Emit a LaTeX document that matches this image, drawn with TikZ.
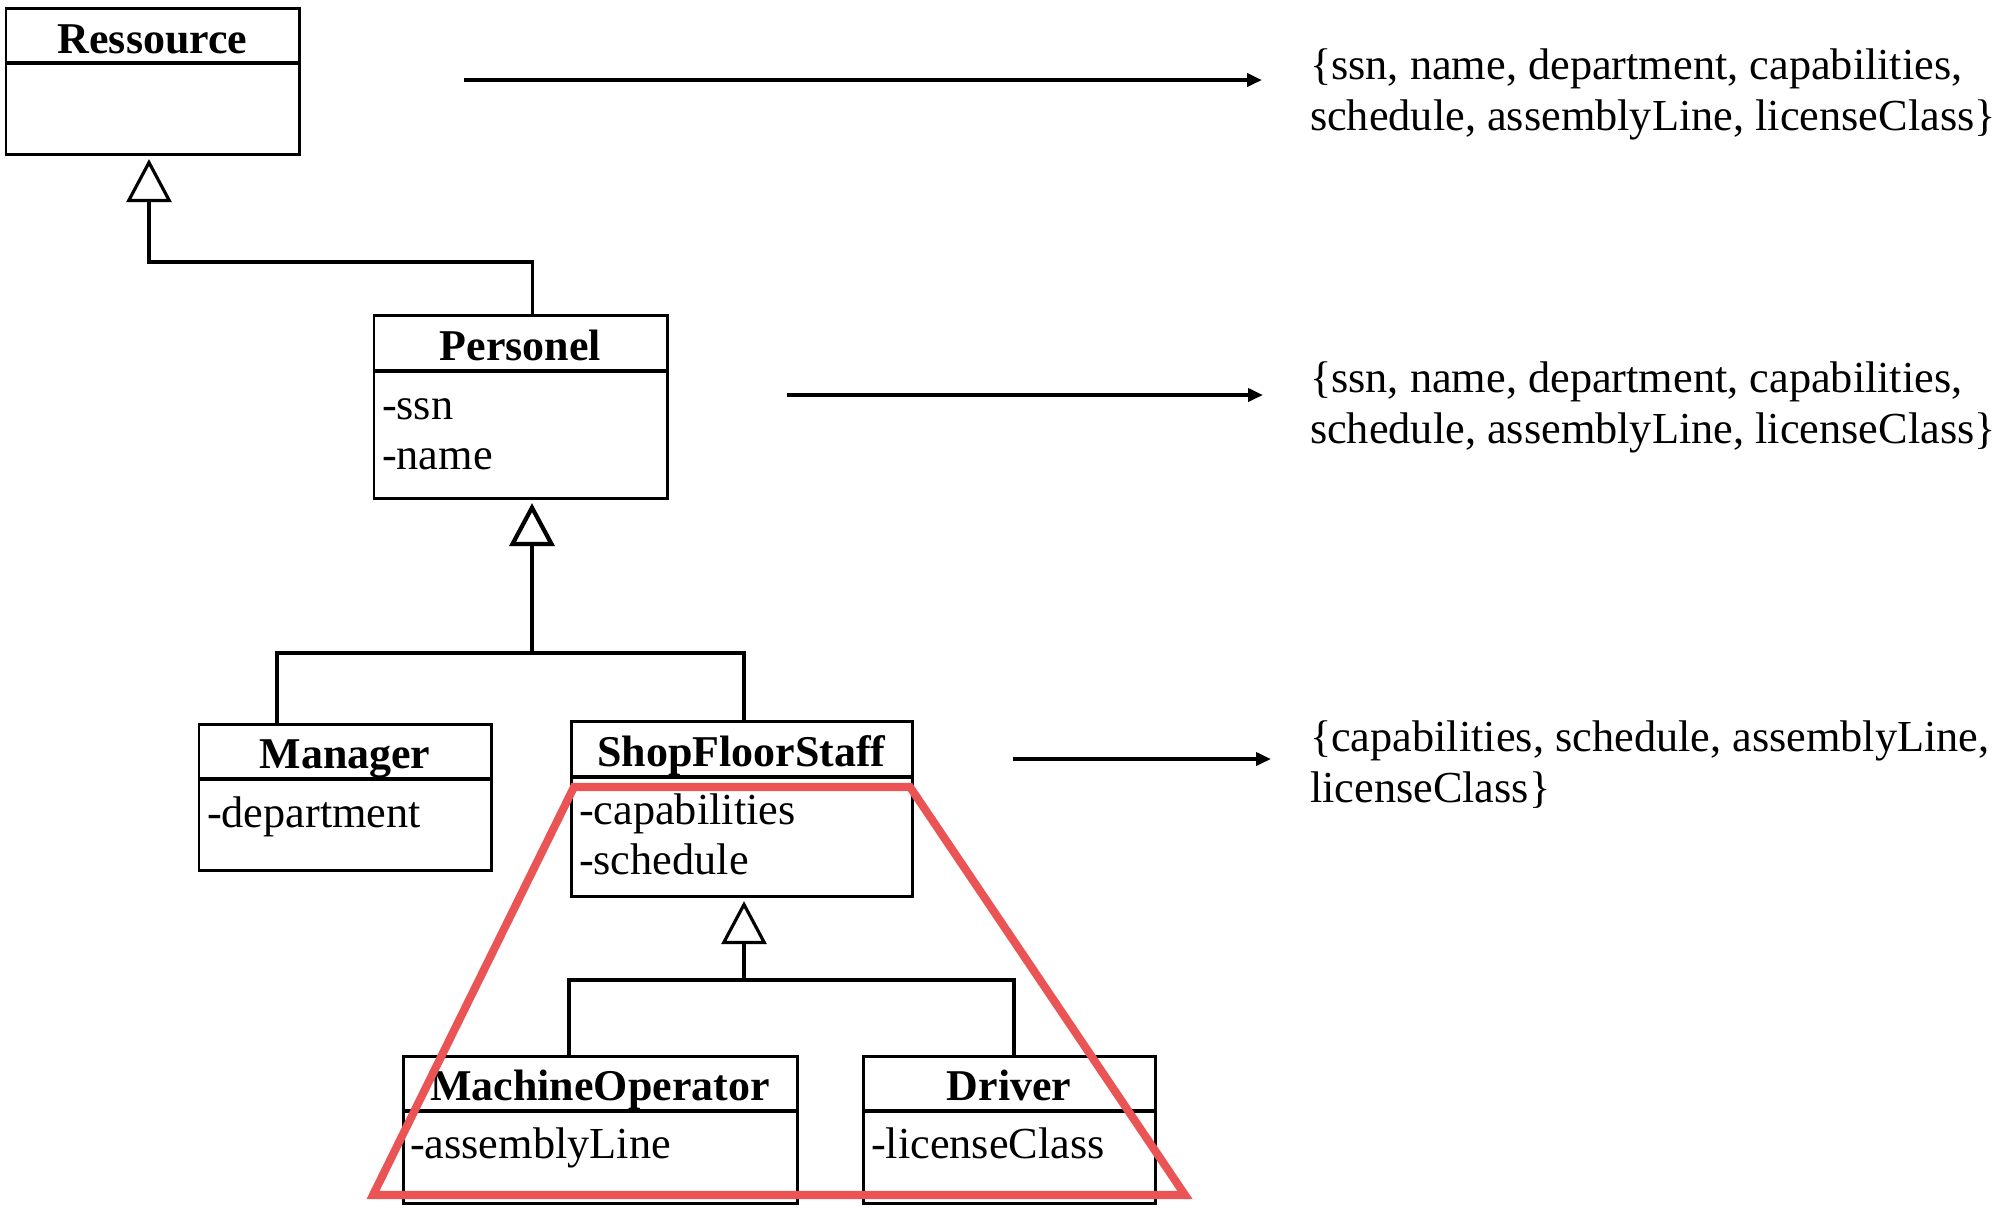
\documentclass[tikz,border=0pt]{standalone}
\usepackage{fontspec}
\setmainfont{Liberation Serif}
\usetikzlibrary{arrows.meta}
\definecolor{hl}{RGB}{234,84,85}
\begin{document}
\begin{tikzpicture}[x=0.01cm,y=-0.01cm,
  every node/.style={inner sep=0pt, outer sep=0pt},
  cls/.style={draw=black, line width=0.85pt, anchor=north west},
  title/.style={anchor=base, font=\fontsize{12.5}{14}\selectfont\bfseries},
  attr/.style={anchor=base west, font=\fontsize{12.6}{14}\selectfont},
  note/.style={anchor=base west, font=\fontsize{12.6}{14}\selectfont},
  conn/.style={line width=0.9pt, line join=miter},
  gen/.style={conn, -{Triangle[open, length=0.43cm, width=0.45cm, fill=white]}, shorten >=0.05cm},
  flow/.style={line width=1.3pt, -{Triangle[length=0.15cm, width=0.13cm]}},
  hlshape/.style={draw=hl, line width=2.3pt, line join=miter}
]
\useasboundingbox (0,0) rectangle (2000,1217);

% class boxes
\node[cls, minimum width=2.93cm, minimum height=1.46cm] (ressource) at (6,8) {};
\node[cls, minimum width=2.93cm, minimum height=1.83cm] (personel) at (374,315) {};
\node[cls, minimum width=2.92cm, minimum height=1.46cm] (manager) at (199,724) {};
\node[cls, minimum width=3.41cm, minimum height=1.75cm] (sfs) at (571,721) {};
\node[cls, minimum width=3.94cm, minimum height=1.47cm] (mo) at (403,1056) {};
\node[cls, minimum width=2.92cm, minimum height=1.47cm] (driver) at (863,1056) {};

% dividers
\draw[conn] (ressource.west |- 0,63) -- (ressource.east |- 0,63);
\draw[conn] (personel.west |- 0,371) -- (personel.east |- 0,371);
\draw[conn] (manager.west |- 0,779) -- (manager.east |- 0,779);
\draw[conn] (sfs.west |- 0,777) -- (sfs.east |- 0,777);
\draw[conn] (mo.west |- 0,1111) -- (mo.east |- 0,1111);
\draw[conn] (driver.west |- 0,1111) -- (driver.east |- 0,1111);

% titles
\node[title] (ressourceT) at (152.5,53) {Ressource};
\node[title] (personelT) at (520.5,360) {Personel};
\node[title] (managerT) at (345,768) {Manager};
\node[title] (sfsT) at (741.5,766) {ShopFloorStaff};
\node[title] (moT) at (600,1100) {MachineOperator};
\node[title] (driverT) at (1009,1100) {Driver};

% attributes
\node[attr] (pa1) at (382,419) {-ssn};
\node[attr] (pa2) at (382,469) {-name};
\node[attr] (ma1) at (207,827) {-department};
\node[attr] (sa1) at (579,824) {-capabilities};
\node[attr] (sa2) at (579,874) {-schedule};
\node[attr] (oa1) at (410,1158) {-assemblyLine};
\node[attr] (da1) at (871,1158) {-licenseClass};

% right-hand notes
\node[note] (t1a) at (1310,79) {\{ssn, name, department, capabilities,};
\node[note] (t1b) at (1310,130) {schedule, assemblyLine, licenseClass\}};
\node[note] (t2a) at (1310,392) {\{ssn, name, department, capabilities,};
\node[note] (t2b) at (1310,443) {schedule, assemblyLine, licenseClass\}};
\node[note] (t3a) at (1310,751) {\{capabilities, schedule, assemblyLine,};
\node[note] (t3b) at (1310,802) {licenseClass\}};

% flow arrows
\coordinate (f1s) at (464,80);  \coordinate (f1e) at (1262,80);
\coordinate (f2s) at (787,395); \coordinate (f2e) at (1263,395);
\coordinate (f3s) at (1013,759); \coordinate (f3e) at (1271,759);
\draw[flow] (f1s) -- (f1e);
\draw[flow] (f2s) -- (f2e);
\draw[flow] (f3s) -- (f3e);

% generalizations
\coordinate (j1) at (149,262);
\draw[gen] ([xshift=0.12cm]personel.north) |- (j1) -- (j1 |- ressource.south);

\coordinate (j2) at (532,653);
\coordinate (m1) at (277,653); \coordinate (s1) at (744,653);
\draw[gen, line width=1.2pt] (j2) -- (j2 |- personel.south);
\draw[conn] (manager.north -| m1) -- (m1) -- (s1) -- (s1 |- sfs.north);

\coordinate (j3) at (744,980);
\coordinate (o1) at (569,980); \coordinate (d1) at (1014,980);
\draw[gen] (j3) -- (j3 |- sfs.south);
\draw[conn] (mo.north -| o1) -- (o1) -- (d1) -- (d1 |- driver.north);

% highlight trapezoid
\draw[hlshape] (574,787) -- (910,787) -- (1185,1195) -- (373,1195) -- cycle;
\end{tikzpicture}
\end{document}
